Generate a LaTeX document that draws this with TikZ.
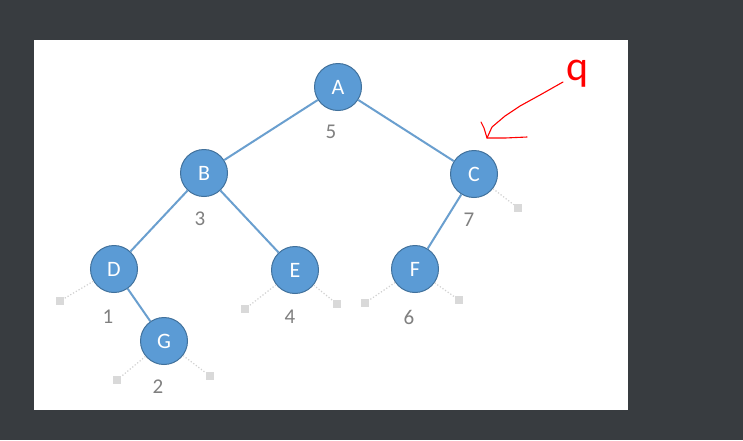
\documentclass[tikz,border=0pt]{standalone}
\usepackage{fontspec}
\setmainfont{Carlito}
\begin{document}
\begin{tikzpicture}[x=1pt,y=-1pt,
  tnode/.style={circle,fill=nodeblue,draw=nodeedge,line width=1pt,minimum size=47pt,inner sep=0pt,text=white,font=\fontsize{22}{22}\selectfont},
  tedge/.style={draw=edgeblue,line width=2pt},
  nulledge/.style={draw=black!18,line width=1.2pt,dotted},
  nullbox/.style={fill=black!15,minimum size=8pt,inner sep=0pt},
  lbl/.style={text=black!50,font=\fontsize{21}{21}\selectfont},
  redpen/.style={draw=red,line width=1.1pt,line join=round,line cap=round}]
\definecolor{nodeblue}{HTML}{5B9BD5}
\definecolor{nodeedge}{HTML}{41719C}
\definecolor{edgeblue}{HTML}{6A9FCF}
\definecolor{bgdark}{HTML}{383C40}
\useasboundingbox (0,0) rectangle (743,440);
\fill[bgdark] (0,0) rectangle (743,440);
\fill[white] (34,40) rectangle (628,410);
% nodes
\node[tnode] (A) at (338,87) {A};
\node[tnode] (B) at (204,173) {B};
\node[tnode] (C) at (474,174) {C};
\node[tnode] (D) at (114,269) {D};
\node[tnode] (E) at (295,270) {E};
\node[tnode] (F) at (415,269) {F};
\node[tnode] (G) at (164,341) {G};
% edges
\draw[tedge] (A) -- (B);
\draw[tedge] (A) -- (C);
\draw[tedge] (B) -- (D);
\draw[tedge] (B) -- (E);
\draw[tedge] (C) -- (F);
\draw[tedge] (D) -- (G);
% null pointers
\node[nullbox] (nD) at (60,301) {};
\node[nullbox] (nEl) at (245,309) {};
\node[nullbox] (nEr) at (337,304) {};
\node[nullbox] (nFl) at (365,303) {};
\node[nullbox] (nFr) at (459,300) {};
\node[nullbox] (nC) at (518,208) {};
\node[nullbox] (nGl) at (117,380) {};
\node[nullbox] (nGr) at (210,376) {};
\draw[nulledge] (D) -- (nD);
\draw[nulledge] (E) -- (nEl);
\draw[nulledge] (E) -- (nEr);
\draw[nulledge] (F) -- (nFl);
\draw[nulledge] (F) -- (nFr);
\draw[nulledge] (C) -- (nC);
\draw[nulledge] (G) -- (nGl);
\draw[nulledge] (G) -- (nGr);
% labels
\node[lbl] (l5) at (331,132) {5};
\node[lbl] (l3) at (200,219) {3};
\node[lbl] (l7) at (469,220) {7};
\node[lbl] (l1) at (108,317) {1};
\node[lbl] (l4) at (290,317) {4};
\node[lbl] (l6) at (409,317) {6};
\node[lbl] (l2) at (158,387) {2};
% red annotation
\coordinate (r0) at (563,82);
\coordinate (r1) at (492,127);
\coordinate (r2) at (487,138);
\coordinate (h1) at (481,122);
\coordinate (h2) at (527,137);
\draw[redpen] (r0) -- (540,95) -- (520,106) -- (505,116) -- (r1) -- (r2);
\draw[redpen] (h1) -- (484,128) -- (r2) -- (505,138) -- (h2);
\node[text=red,font=\fontsize{42}{42}\selectfont] (q) at (578,74) {q};
\end{tikzpicture}
\end{document}
